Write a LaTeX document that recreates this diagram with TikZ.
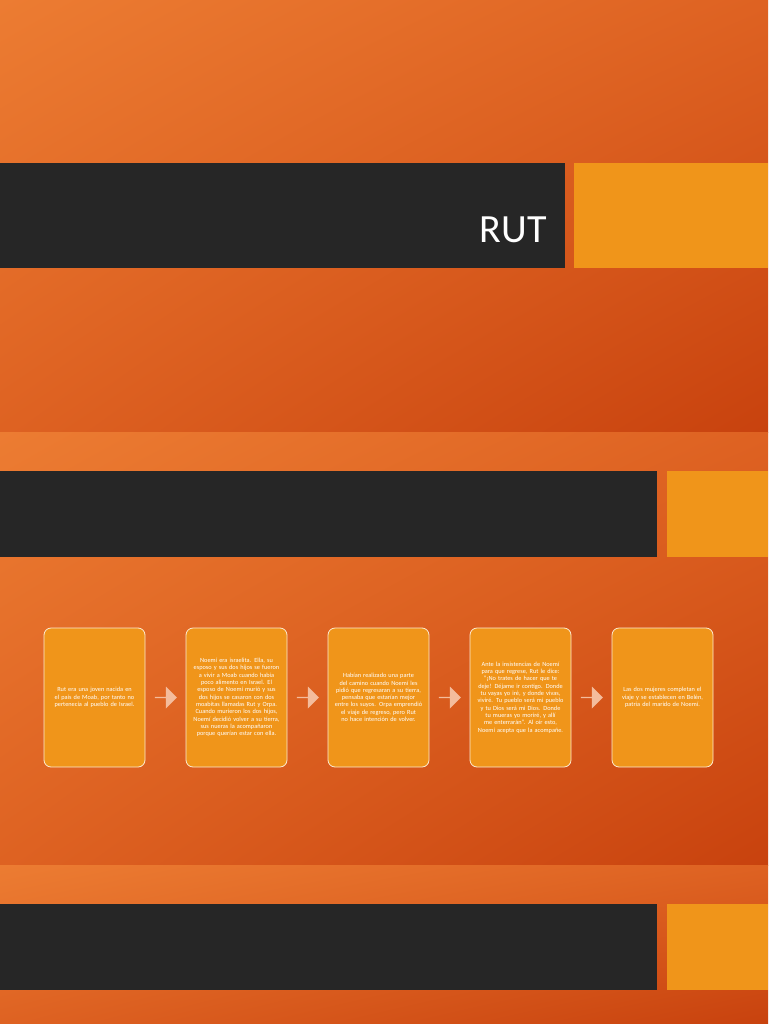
\documentclass[tikz,border=0pt]{standalone}
\usepackage{fontspec}
\setmainfont{Carlito}
\usetikzlibrary{shapes.arrows,shadings,calc}
\definecolor{dark}{HTML}{262626}
\definecolor{org}{HTML}{F0951A}
\definecolor{bgA}{HTML}{EC7C32}
\definecolor{bgB}{HTML}{DE6222}
\definecolor{bgC}{HTML}{C8420E}
\definecolor{arr}{HTML}{F4BC9C}
\tikzset{
 stepbox/.style={draw=white!80!org,line width=0.8pt,fill=org,rounded corners=7pt,minimum width=101pt,minimum height=139pt,text width=88pt,align=center,text=white,font=\fontsize{6.3}{7.3}\selectfont,inner sep=2pt},
 arrowshape/.style={single arrow,fill=arr,draw=none,minimum width=22pt,single arrow head extend=3pt,minimum height=22pt,inner sep=0pt},
 darkbar/.style={fill=dark},
 orgbar/.style={fill=org},
 bg/.style={upper left=bgA,upper right=bgB,lower left=bgB,lower right=bgC}
}
\begin{document}
\begin{tikzpicture}[x=1pt,y=-1pt]
\useasboundingbox (0,0) rectangle (768,1024);
\shade[bg] (0,0) rectangle (768,432);
\shade[bg] (0,432) rectangle (768,865);
\shade[bg] (0,865) rectangle (768,1024);
\fill[darkbar] (0,163) rectangle (565,268);
\fill[orgbar] (574,163) rectangle (768,268);
\node[anchor=east,text=white,font=\fontsize{40}{44}\selectfont] (title) at (550,230) {RUT};
\fill[darkbar] (0,471) rectangle (657,557);
\fill[orgbar] (667,471) rectangle (768,557);
\fill[darkbar] (0,904) rectangle (657,990);
\fill[orgbar] (667,904) rectangle (768,990);
\node[stepbox] (b1) at (94.5,697.5) {Rut era una joven nacida en el país de Moab, por tanto no pertenecía al pueblo de Israel.};
\node[stepbox] (b2) at (236.5,697.5) {Noemí era israelita. Ella, su esposo y sus dos hijos se fueron a vivir a Moab cuando había poco alimento en Israel. El esposo de Noemí murió y sus dos hijos se casaron con dos moabitas llamadas Rut y Orpa. Cuando murieron los dos hijos, Noemí decidió volver a su tierra, sus nueras la acompañaron porque querían estar con ella.};
\node[stepbox] (b3) at (378.5,697.5) {Habían realizado una parte del camino cuando Noemí les pidió que regresaran a su tierra, pensaba que estarían mejor entre los suyos. Orpa emprendió el viaje de regreso, pero Rut no hace intención de volver.};
\node[stepbox] (b4) at (520.5,697.5) {Ante la insistencias de Noemí para que regrese, Rut le dice: "¡No trates de hacer que te deje! Déjame ir contigo. Donde tu vayas yo iré, y donde vivas, viviré. Tu pueblo será mi pueblo y tu Dios será mi Dios. Donde tu mueras yo moriré, y allí me enterrarán". Al oír esto, Noemí acepta que la acompañe.};
\node[stepbox] (b5) at (662.5,697.5) {Las dos mujeres completan el viaje y se establecen en Belén, patria del marido de Noemí.};
\foreach \a/\b in {b1/b2,b2/b3,b3/b4,b4/b5}{
 \node[arrowshape] at ($(\a.east)!0.5!(\b.west)$) {};
}
\end{tikzpicture}
\end{document}
